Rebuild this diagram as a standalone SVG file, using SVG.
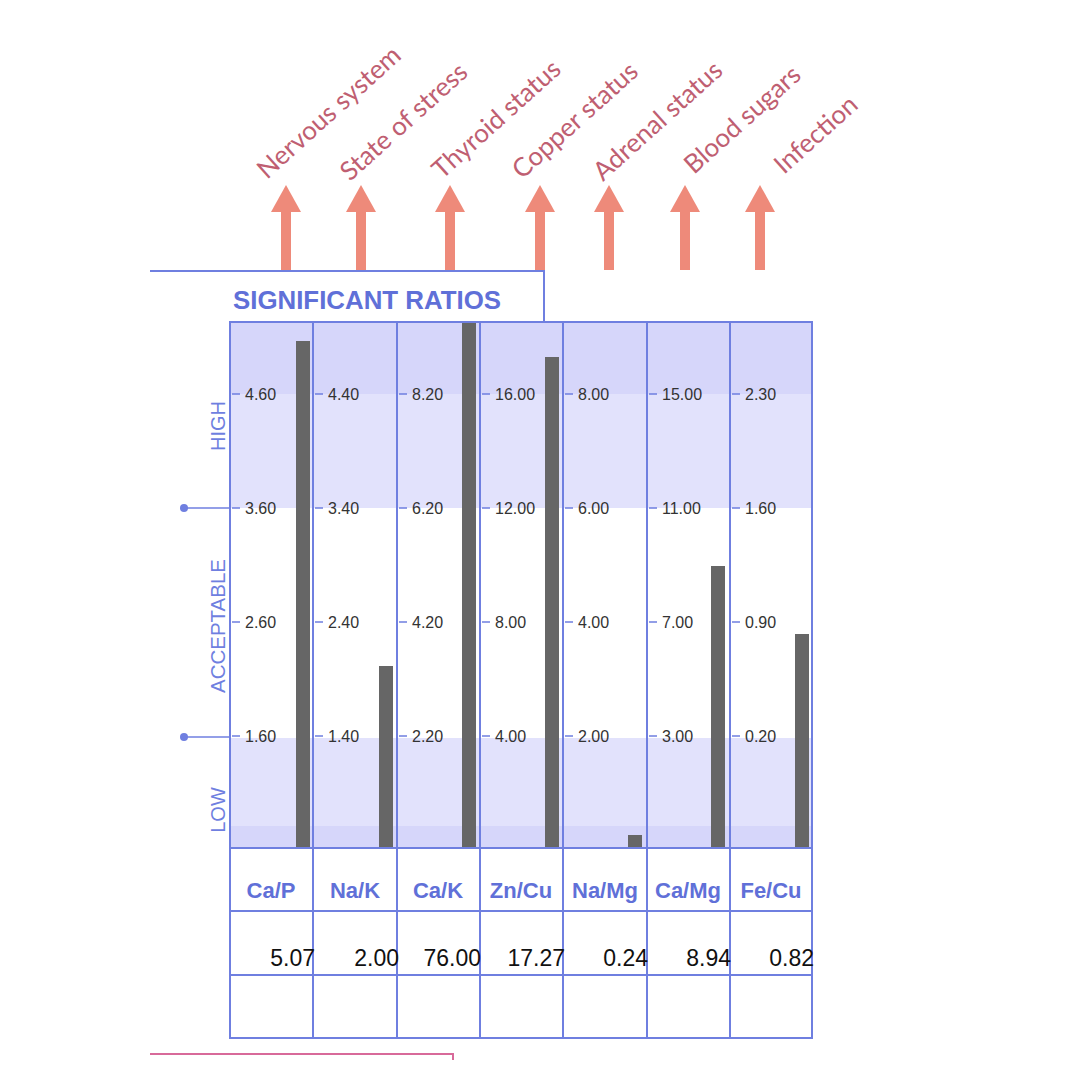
<svg xmlns="http://www.w3.org/2000/svg" width="1080" height="1080" viewBox="0 0 1080 1080">
<style>
.lbl{font-family:"Liberation Sans",Arial,sans-serif;font-size:16px;fill:#333;}
.tk{stroke:#6f7fe0;stroke-width:1.5}
.grid{stroke:#6f7fe0;stroke-width:2;fill:none}
.hdr{font-family:"Liberation Sans",Arial,sans-serif;font-size:21px;font-weight:bold;fill:#6070d8;text-anchor:middle}
.val{font-family:"Liberation Sans",Arial,sans-serif;font-size:23px;fill:#111;text-anchor:end}
.band{font-family:"Liberation Sans",Arial,sans-serif;font-size:20px;fill:#6f7fe0;text-anchor:middle}
.cat{font-family:"Lato","Noto Sans",sans-serif;font-size:26px;fill:#bf5f72}
.bar{fill:#666}
.arr{fill:#ee8a7a}
</style>
<rect width="1080" height="1080" fill="#fff"/>
<g id="arrows">
<g class="arr">
<rect x="281" y="210" width="10" height="60"/><polygon points="271,212 301,212 286,185"/>
<rect x="356" y="210" width="10" height="60"/><polygon points="346,212 376,212 361,185"/>
<rect x="445" y="210" width="10" height="60"/><polygon points="435,212 465,212 450,185"/>
<rect x="535" y="210" width="10" height="60"/><polygon points="525,212 555,212 540,185"/>
<rect x="604" y="210" width="10" height="60"/><polygon points="594,212 624,212 609,185"/>
<rect x="680" y="210" width="10" height="60"/><polygon points="670,212 700,212 685,185"/>
<rect x="755" y="210" width="10" height="60"/><polygon points="745,212 775,212 760,185"/>
</g>
</g>
<g id="labels">
<text class="cat" transform="translate(267,180) rotate(-42)">Nervous system</text>
<text class="cat" transform="translate(350,182) rotate(-42)">State of stress</text>
<text class="cat" transform="translate(442,180) rotate(-42)">Thyroid status</text>
<text class="cat" transform="translate(522,180) rotate(-42)">Copper status</text>
<text class="cat" transform="translate(603,182) rotate(-42)">Adrenal status</text>
<text class="cat" transform="translate(694,175) rotate(-42)">Blood sugars</text>
<text class="cat" transform="translate(784,175) rotate(-42)">Infection</text>
</g>
<g id="chart">
<rect x="230" y="322" width="582" height="72" fill="#d6d6fa"/>
<rect x="230" y="394" width="582" height="114" fill="#e2e2fc"/>
<rect x="230" y="738" width="582" height="88" fill="#e2e2fc"/>
<rect x="230" y="826" width="582" height="22" fill="#d6d6fa"/>
<polyline class="grid" points="150,271 544,271 544,322"/>
<text class="hdr" x="367" y="309" style="font-size:26px" textLength="268" lengthAdjust="spacingAndGlyphs">SIGNIFICANT RATIOS</text>
<line class="tk" x1="184" y1="508" x2="230" y2="508"/><circle cx="184" cy="508" r="4" fill="#6f7fe0"/>
<line class="tk" x1="184" y1="737" x2="230" y2="737"/><circle cx="184" cy="737" r="4" fill="#6f7fe0"/>
<text class="band" transform="translate(225,426) rotate(-90)">HIGH</text>
<text class="band" transform="translate(225,626) rotate(-90)" textLength="134" lengthAdjust="spacingAndGlyphs">ACCEPTABLE</text>
<text class="band" transform="translate(225,810) rotate(-90)">LOW</text>
<g class="bar">
<rect x="296" y="341" width="14" height="507"/>
<rect x="379" y="666" width="14" height="182"/>
<rect x="462" y="322" width="14" height="526"/>
<rect x="545" y="357" width="14" height="491"/>
<rect x="628" y="835" width="14" height="13"/>
<rect x="711" y="566" width="14" height="282"/>
<rect x="795" y="634" width="14" height="214"/>
</g>
<g class="grid">
<rect x="230" y="322" width="582" height="716"/>
<line x1="230" y1="848" x2="812" y2="848"/>
<line x1="230" y1="911" x2="812" y2="911"/>
<line x1="230" y1="975" x2="812" y2="975"/>
<line x1="313" y1="322" x2="313" y2="1038"/>
<line x1="397" y1="322" x2="397" y2="1038"/>
<line x1="480" y1="322" x2="480" y2="1038"/>
<line x1="563" y1="322" x2="563" y2="1038"/>
<line x1="647" y1="322" x2="647" y2="1038"/>
<line x1="730" y1="322" x2="730" y2="1038"/>
</g>
<g class="tk">
<path d="M232,394h8M232,508h8M232,622h8M232,736h8M315,394h8M315,508h8M315,622h8M315,736h8M399,394h8M399,508h8M399,622h8M399,736h8M482,394h8M482,508h8M482,622h8M482,736h8M565,394h8M565,508h8M565,622h8M565,736h8M649,394h8M649,508h8M649,622h8M649,736h8M732,394h8M732,508h8M732,622h8M732,736h8"/>
</g>
<g class="lbl">
<text x="245" y="400">4.60</text><text x="245" y="514">3.60</text><text x="245" y="628">2.60</text><text x="245" y="742">1.60</text>
<text x="328" y="400">4.40</text><text x="328" y="514">3.40</text><text x="328" y="628">2.40</text><text x="328" y="742">1.40</text>
<text x="412" y="400">8.20</text><text x="412" y="514">6.20</text><text x="412" y="628">4.20</text><text x="412" y="742">2.20</text>
<text x="495" y="400">16.00</text><text x="495" y="514">12.00</text><text x="495" y="628">8.00</text><text x="495" y="742">4.00</text>
<text x="578" y="400">8.00</text><text x="578" y="514">6.00</text><text x="578" y="628">4.00</text><text x="578" y="742">2.00</text>
<text x="662" y="400">15.00</text><text x="662" y="514">11.00</text><text x="662" y="628">7.00</text><text x="662" y="742">3.00</text>
<text x="745" y="400">2.30</text><text x="745" y="514">1.60</text><text x="745" y="628">0.90</text><text x="745" y="742">0.20</text>
</g>
<g class="hdr" style="font-size:22px">
<text x="271" y="898">Ca/P</text><text x="355" y="898">Na/K</text><text x="438" y="898">Ca/K</text><text x="521" y="898">Zn/Cu</text><text x="605" y="898">Na/Mg</text><text x="688" y="898">Ca/Mg</text><text x="771" y="898">Fe/Cu</text>
</g>
<g class="val">
<text x="315" y="966">5.07</text><text x="399" y="966">2.00</text><text x="481" y="966">76.00</text><text x="565" y="966">17.27</text><text x="648" y="966">0.24</text><text x="731" y="966">8.94</text><text x="814" y="966">0.82</text>
</g>
<polyline points="150,1054 453,1054 453,1060" fill="none" stroke="#d86a9a" stroke-width="2"/>
</g>
</svg>
